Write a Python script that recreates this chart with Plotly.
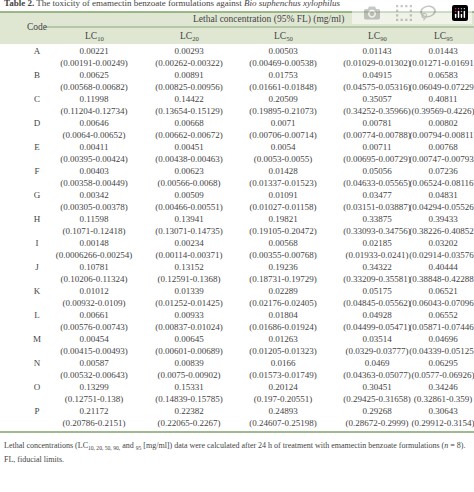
import plotly.graph_objects as go

codes = list("ABCDEFGHIJKLMNOP")
levels = ["10", "20", "50", "90", "95"]

lc10 = ["0.00221", "0.00625", "0.11998", "0.00646", "0.00411", "0.00403", "0.00342", "0.11598",
        "0.00148", "0.10781", "0.01012", "0.00661", "0.00454", "0.00587", "0.13299", "0.21172"]
lc20 = ["0.00293", "0.00891", "0.14422", "0.00668", "0.00451", "0.00623", "0.00509", "0.13941",
        "0.00234", "0.13152", "0.01339", "0.00933", "0.00645", "0.00839", "0.15331", "0.22382"]
lc50 = ["0.00503", "0.01753", "0.20509", "0.0071", "0.0054", "0.01428", "0.01091", "0.19821",
        "0.00568", "0.19236", "0.02289", "0.01804", "0.01263", "0.0166", "0.20124", "0.24893"]
lc90 = ["0.01143", "0.04915", "0.35057", "0.00781", "0.00711", "0.05056", "0.03477", "0.33875",
        "0.02185", "0.34322", "0.05175", "0.04928", "0.03514", "0.0469", "0.30451", "0.29268"]
lc95 = ["0.01443", "0.06583", "0.40811", "0.00802", "0.00768", "0.07236", "0.04831", "0.39433",
        "0.03202", "0.40444", "0.06521", "0.06552", "0.04696", "0.06295", "0.34246", "0.30643"]

fl10 = ["0.00191-0.00249", "0.00568-0.00682", "0.11204-0.12734", "0.0064-0.00652", "0.00395-0.00424",
        "0.00358-0.00449", "0.00305-0.00378", "0.1071-0.12418", "0.0006266-0.00254", "0.10206-0.11324",
        "0.00932-0.0109", "0.00576-0.00743", "0.00415-0.00493", "0.00532-0.00643", "0.12751-0.138",
        "0.20786-0.2151"]
fl20 = ["0.00262-0.00322", "0.00825-0.00956", "0.13654-0.15129", "0.00662-0.00672", "0.00438-0.00463",
        "0.00566-0.0068", "0.00466-0.00551", "0.13071-0.14735", "0.00114-0.00371", "0.12591-0.1368",
        "0.01252-0.01425", "0.00837-0.01024", "0.00601-0.00689", "0.0075-0.00902", "0.14839-0.15785",
        "0.22065-0.2267"]
fl50 = ["0.00469-0.00538", "0.01661-0.01848", "0.19895-0.21073", "0.00706-0.00714", "0.0053-0.0055",
        "0.01337-0.01523", "0.01027-0.01158", "0.19105-0.20472", "0.00355-0.00768", "0.18731-0.19729",
        "0.02176-0.02405", "0.01686-0.01924", "0.01205-0.01323", "0.01573-0.01749", "0.197-0.20551",
        "0.24607-0.25198"]
fl90 = ["0.01029-0.01302", "0.04575-0.05316", "0.34252-0.35966", "0.00774-0.00788", "0.00695-0.00729",
        "0.04633-0.05565", "0.03151-0.03887", "0.33093-0.34756", "0.01933-0.0241", "0.33209-0.35581",
        "0.04845-0.05562", "0.04499-0.05471", "0.0329-0.03777", "0.04363-0.05077", "0.29425-0.31658",
        "0.28672-0.2999"]
fl95 = ["0.01271-0.01691", "0.06049-0.07229", "0.39569-0.4226", "0.00794-0.00811", "0.00747-0.00793",
        "0.06524-0.08116", "0.04294-0.05526", "0.38226-0.40852", "0.02914-0.03576", "0.38848-0.42288",
        "0.06043-0.07096", "0.05871-0.07446", "0.04339-0.05125", "0.0577-0.06926", "0.32861-0.359",
        "0.29912-0.3154"]

values = [lc10, lc20, lc50, lc90, lc95]
limits = [fl10, fl20, fl50, fl90, fl95]

# layout positions (pixels)
col_x = [94, 189, 283, 377, 443]
code_x = 37
row0, row_h = 52, 24.0
font = dict(family="Liberation Serif", size=9, color="#444")
green = "#7fa36a"

fig = go.Figure()
ys = [row0 + i * row_h for i in range(len(codes))]
fig.add_trace(go.Scatter(x=[code_x] * len(codes), y=ys, mode="text", text=codes,
                         textfont=font, hoverinfo="skip"))
for cx, vals, fls in zip(col_x, values, limits):
    fig.add_trace(go.Scatter(x=[cx] * len(vals), y=ys, mode="text", text=vals,
                             textfont=font, hoverinfo="skip"))
    fig.add_trace(go.Scatter(x=[cx] * len(fls), y=[y + 12 for y in ys], mode="text",
                             text=["(" + f + ")" for f in fls], textfont=font, hoverinfo="skip"))

shapes = [
    dict(type="rect", x0=0, x1=474, y0=12, y1=44, fillcolor="#dfe7d3", line_width=0, layer="below"),
    dict(type="line", x0=0, x1=474, y0=12, y1=12, line=dict(color=green, width=1.5)),
    dict(type="line", x0=45, x1=474, y0=27, y1=27, line=dict(color="#8aa87a", width=1)),
    dict(type="line", x0=0, x1=474, y0=432, y1=432, line=dict(color=green, width=1.5)),
]
ann = [
    dict(x=2, y=3, size=9, xanchor="left",
         text="<b>Table 2.</b> The toxicity of emamectin benzoate formulations against <i>Bio suphenchus xylophilus</i>"),
    dict(x=code_x, y=27, size=9.5, text="Code"),
    dict(x=268, y=19, size=9.5, text="Lethal concentration (95% FL) (mg/ml)"),
    dict(x=2, y=446, size=8, xanchor="left",
         text="Lethal concentrations (LC<sub>10, 20, 50, 90,</sub> and <sub>95</sub> [mg/ml]) data were calculated after 24 h of treatment with emamectin benzoate formulations (<i>n</i> = 8)."),
    dict(x=2, y=459, size=8, xanchor="left", text="FL, fiducial limits."),
]
for cx, lv in zip(col_x, levels):
    ann.append(dict(x=cx, y=36, size=9.5, text="LC<sub>" + lv + "</sub>"))
for a in ann:
    s = a.pop("size")
    a.update(xref="x", yref="y", showarrow=False,
             font=dict(family="Liberation Serif", size=s, color="#444"))

fig.update_layout(
    width=474, height=492, margin=dict(l=0, r=0, t=0, b=0),
    paper_bgcolor="white", plot_bgcolor="white", showlegend=False,
    xaxis=dict(range=[0, 474], visible=False, fixedrange=True),
    yaxis=dict(range=[492, 0], visible=False, fixedrange=True),
    shapes=shapes, annotations=ann,
)
fig.write_html("out.html", post_script="document.body.style.margin='0';document.body.style.overflow='hidden';")
